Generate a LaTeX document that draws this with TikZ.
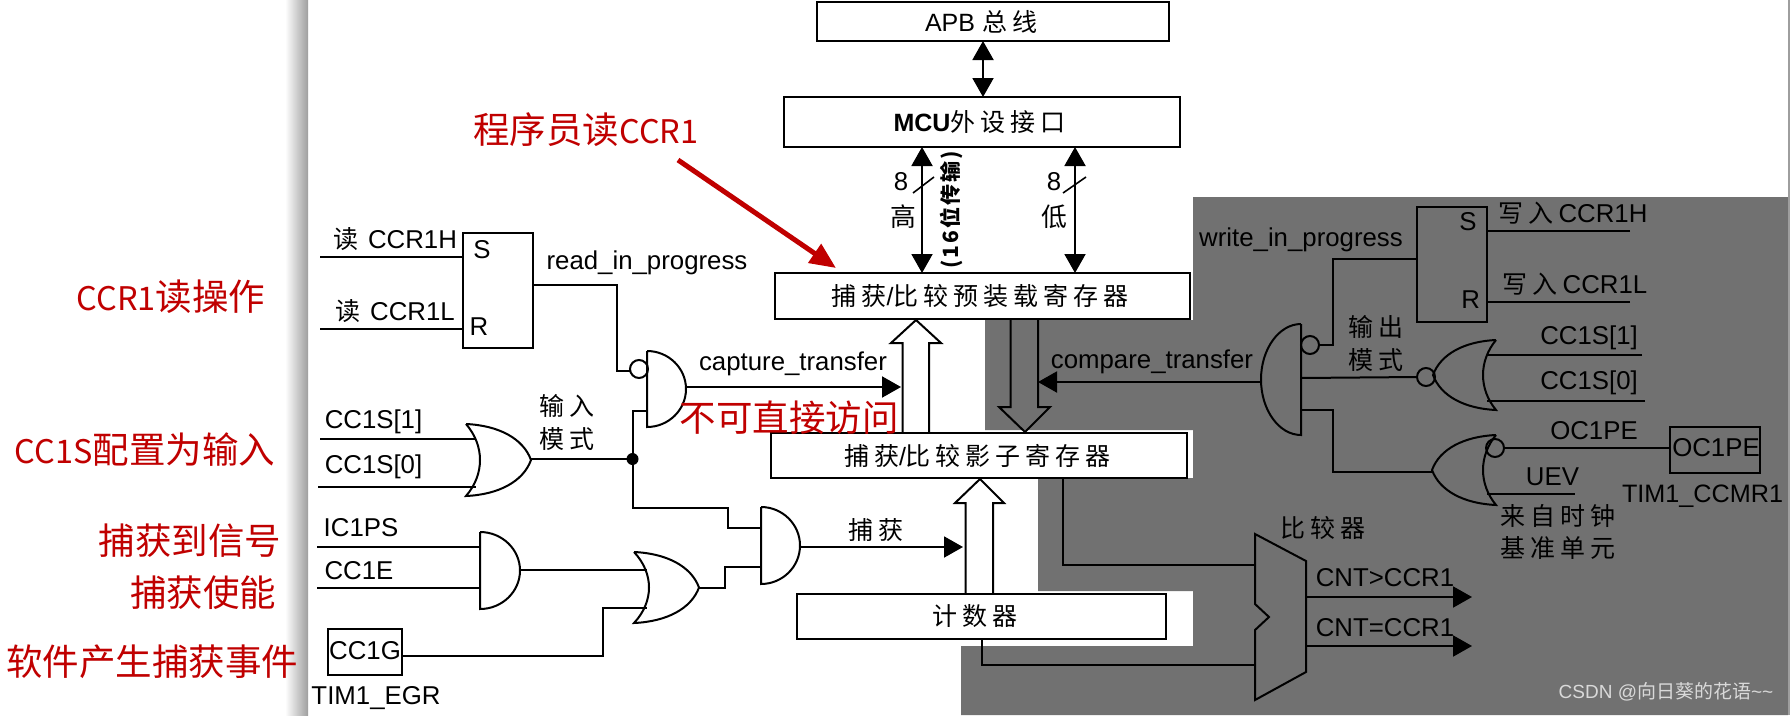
\documentclass[tikz,border=0pt]{standalone}
\usepackage{fontspec}
\usetikzlibrary{arrows.meta}
\setmainfont{Liberation Sans}
\newfontfamily\cjk{Noto Sans CJK SC}
\newfontfamily\cjksp{Noto Sans CJK SC}[LetterSpace=20]
\newfontfamily\cjkrot{Noto Sans CJK SC}[LetterSpace=10]
\definecolor{redtxt}{HTML}{C00000}
\definecolor{darkbg}{HTML}{717171}
\newcommand{\gateand}[4]{%
  \pgfmathsetmacro\gm{(#2+#3)/2}%
  \pgfmathsetmacro\gh{(#3-#2)/2*0.55}%
  \pgfmathsetmacro\gtx{#1+#4}%
  \pgfmathsetmacro\gcx{#1+0.55*#4}%
  \draw[wire] (#1,#2) -- (#1,#3) .. controls (\gcx,#3) and (\gtx,\gm+\gh) .. (\gtx,\gm)
     .. controls (\gtx,\gm-\gh) and (\gcx,#2) .. (#1,#2);}
\newcommand{\gateor}[5]{%
  \pgfmathsetmacro\gm{(#2+#3)/2}%
  \pgfmathsetmacro\gH{#3-#2}%
  \pgfmathsetmacro\gw{#5-#1}%
  \pgfmathsetmacro\gb{#1+(#4-#1)/0.75}%
  \draw[wire] (#1,#2) .. controls (\gb,#2+0.3*\gH) and (\gb,#3-0.3*\gH) .. (#1,#3)
     .. controls (#1+0.5*\gw,#3-0.02*\gH) and (#5-0.12*\gw,\gm+0.3*\gH) .. (#5,\gm)
     .. controls (#5-0.12*\gw,\gm-0.3*\gH) and (#1+0.5*\gw,#2+0.02*\gH) .. (#1,#2);}
\tikzset{
  wire/.style={line width=2pt,line join=miter},
  regbox/.style={draw,line width=2.2pt,fill=white,inner sep=0pt,outer sep=0pt,
     font=\fontsize{25}{28}\selectfont},
  srbox/.style={draw,line width=2pt,inner sep=0pt,outer sep=0pt},
  bub/.style={draw,line width=2pt,circle,minimum size=18pt,inner sep=0pt,outer sep=0pt},
  lab/.style={inner sep=0pt,outer sep=0pt,font=\fontsize{25.8}{28}\selectfont},
  redlab/.style={inner sep=0pt,outer sep=0pt,text=redtxt,font=\fontsize{36.5}{40}\selectfont\cjk},
  arr/.style={wire,-{Triangle[length=19pt,width=21pt]}},
  darr/.style={wire,{Triangle[length=19pt,width=21pt]}-{Triangle[length=19pt,width=21pt]}},
  hollow/.style={line width=2pt,line join=miter}
}
\newcommand{\lat}[1]{{\fontsize{32.5}{36}\selectfont #1}}
\newcommand{\cjktwo}[1]{{\fontsize{25}{28}\selectfont\cjksp #1}}
\begin{document}
\begin{tikzpicture}[x=1pt,y=-1pt]
\useasboundingbox (0,0) rectangle (1790,715);
% page
\fill[white] (0,0) rectangle (1790,715);
\shade[left color=white,right color=black!38,shading angle=90] (285,0) rectangle (308,715);
\fill[darkbg] (1193,197) -- (1788,197) -- (1788,715) -- (961,715) -- (961,646) -- (1193,646)
  -- (1193,591) -- (1038,591) -- (1038,478) -- (1193,478) -- (1193,430) -- (985,430)
  -- (985,320) -- (1193,320) -- cycle;
\fill[black!38] (1788,0) rectangle (1790,715);

% hollow arrows
\draw[hollow,fill=white] (902.5,433) -- (902.5,343) -- (891,343) -- (916,320) -- (941,343) -- (929,343) -- (929,433);
\draw[hollow,fill=white] (965.5,594) -- (965.5,503) -- (955,503) -- (980,479) -- (1004,503) -- (993,503) -- (993,594);
\draw[hollow] (1010.5,319) -- (1010.5,407) -- (999,407) -- (1025,432) -- (1050,407) -- (1038,407) -- (1038,319);

% registers
\node[regbox,minimum width=352pt,minimum height=39pt] (apb) at (993,21.5)
  {\kern-24pt APB\hspace{7pt}{\cjksp 总线}};
\node[regbox,minimum width=396pt,minimum height=50pt] (mcu) at (982,122)
  {\kern-5pt\textbf{MCU}{\cjksp 外设接口}};
\node[regbox,minimum width=415pt,minimum height=46pt] (pre) at (982.5,296)
  {\kern-5pt{\cjksp 捕获}/{\cjksp 比较预装载寄存器}};
\node[regbox,minimum width=416pt,minimum height=45pt] (sha) at (979,455.5)
  {\kern-3pt{\cjksp 捕获}/{\cjksp 比较影子寄存器}};
\node[regbox,minimum width=369pt,minimum height=45pt] (cnt) at (981.5,616.5)
  {\kern-14pt{\cjksp 计数器}};

% bus arrows
\coordinate (busx) at (983,0);
\coordinate (hix) at (922,0);
\coordinate (lox) at (1075,0);
\draw[darr] (apb.south -| busx) -- (mcu.north -| busx);
\draw[darr] (mcu.south -| hix) -- (pre.north -| hix);
\draw[darr] (mcu.south -| lox) -- (pre.north -| lox);
\coordinate (s1a) at (913,193); \coordinate (s1b) at (934,177);
\coordinate (s2a) at (1063,193); \coordinate (s2b) at (1086,177);
\draw[line width=1.6pt] (s1a) -- (s1b);
\draw[line width=1.6pt] (s2a) -- (s2b);
\node[lab] (n8h) at (901,182) {8};
\node[lab] (n8l) at (1054,182) {8};
\node[lab] (nhi) at (903,217) {\cjk 高};
\node[lab] (nlo) at (1054,217) {\cjk 低};
\node[inner sep=0pt,rotate=90] (n16) at (951,210) {\fontsize{21}{23}\selectfont\cjkrot\bfseries (16位传输)};

% ---------- left: read SR
\node[srbox,minimum width=70pt,minimum height=115pt] (srr) at (498,290.5) {};
\node[lab] (srrS) at (482,250) {S};
\node[lab] (srrR) at (479,327) {R};
\coordinate (rh) at (320,257); \coordinate (rl) at (320,329);
\draw[wire] (rh) -- (rh -| srr.west);
\draw[wire] (rl) -- (rl -| srr.west);
\node[lab] (trh) at (395,239) {{\cjk\fontsize{25}{28}\selectfont 读}\hspace{10pt}CCR1H};
\node[lab] (trl) at (395,311) {{\cjk\fontsize{25}{28}\selectfont 读}\hspace{10pt}CCR1L};
\node[lab] (trip) at (647,263) {read\_in\_progress};

% AND1
\gateand{647}{351}{427}{39}
\node[bub] (b1) at (639,369) {};
\coordinate (srro) at (533,285);
\draw[wire] (srro) -- (617,285) -- (617,371) -- (b1.west |- 617,371);
\coordinate (a1o) at (686,387); \coordinate (a1t) at (901,387);
\draw[arr] (a1o) -- (a1t);
\node[lab] (tct) at (793,364) {capture\_transfer};

% OR1
\gateor{466}{424}{496}{480}{531}
\coordinate (o1o) at (531,459);
\coordinate (j1) at (632.5,459);
\draw[wire] (320,439) coordinate (c1a) -- (476,439);
\draw[wire] (318,487) coordinate (c1b) -- (476,487);
\draw[wire] (o1o) -- (j1);
\fill (j1) circle (6pt);
\coordinate (a3i1) at (761,528);
\draw[wire] (647,411) coordinate (a1i2) -- (632.5,411) -- (632.5,508) -- (727.5,508) -- (727.5,528) -- (a3i1);
\node[lab] (tc1) at (373.5,422) {CC1S[1]};
\node[lab] (tc0) at (373.5,467) {CC1S[0]};
\node[lab] (tin1) at (567,406) {\cjktwo{输入}};
\node[lab] (tin2) at (567,439) {\cjktwo{模式}};

% AND2, OR2, AND3
\gateand{480}{532}{609}{40}
\gateor{634}{552}{623}{649}{699}
\gateand{761}{507}{584}{39}
\draw[wire] (317,547) coordinate (ic) -- (480,547);
\draw[wire] (317,588) coordinate (ce) -- (480,588);
\draw[wire] (520,570) coordinate (a2o) -- (647,570);
\node[lab] (tic) at (361,528) {IC1PS};
\node[lab] (tce) at (359,571) {CC1E};
\node[srbox,minimum width=74pt,minimum height=46pt] (ccg) at (364.5,652) {};
\node[lab] (tcg) at (365,651) {CC1G};
\node[lab] (teg) at (376,698) {TIM1\_EGR};
\draw[wire] (ccg.east |- 0,656) -- (602.5,656) -- (602.5,608) -- (647,608);
\draw[wire] (699,588) coordinate (o2o) -- (725,588) -- (725,567) -- (761,567);
\coordinate (a3o) at (800,547); \coordinate (a3t) at (963,547);
\draw[arr] (a3o) -- (a3t);
\node[lab] (tcap) at (876,530) {\cjktwo{捕获}};

% ---------- right: write SR
\node[srbox,minimum width=70pt,minimum height=115pt] (srw) at (1452,264.5) {};
\node[lab] (srwS) at (1468,222) {S};
\node[lab] (srwR) at (1470.6,300) {R};
\coordinate (wh) at (1630,231); \coordinate (wl) at (1630,302);
\draw[wire] (wh) -- (wh -| srw.east);
\draw[wire] (wl) -- (wl -| srw.east);
\node[lab] (twh) at (1573,213) {\cjktwo{写入}\hspace{5pt}CCR1H};
\node[lab] (twl) at (1575,284) {\cjktwo{写入}\hspace{5pt}CCR1L};
\node[lab] (twip) at (1301,240) {write\_in\_progress};

% AND right
\gateand{1301}{324}{435}{-40}
\node[bub] (b2) at (1310,345) {};
\draw[wire] (srw.west |- 0,259) -- (1333,259) -- (1333,345) -- (b2.east);
\coordinate (a4o) at (1261,382); \coordinate (a4t) at (1038,382);
\draw[arr] (a4o) -- (a4t);
\node[lab] (tcmp) at (1152,362) {compare\_transfer};

% NOR top
\gateor{1496}{340}{410}{1483}{1433}
\node[bub] (b3) at (1426,377) {};
\draw[wire] (1301,378) -- (b3.west);
\draw[wire] (1642,355) coordinate (w1) -- (1487,355);
\draw[wire] (1645,401) coordinate (w0) -- (1487,401);
\node[lab] (tw1) at (1589,338) {CC1S[1]};
\node[lab] (tw0) at (1589,383) {CC1S[0]};
\node[lab] (tou1) at (1376,327) {\cjktwo{输出}};
\node[lab] (tou2) at (1376,360) {\cjktwo{模式}};

% OR lower
\gateor{1496}{435}{505}{1483}{1432}
\node[bub] (b4) at (1495,448) {};
\draw[wire] (1301,410) -- (1333,410) -- (1333,472) -- (1432,472);
\node[srbox,minimum width=90pt,minimum height=46pt] (ocb) at (1715,450) {};
\node[lab] (tocb) at (1716,448) {OC1PE};
\draw[wire] (b4.east) -- (ocb.west |- b4.east);
\draw[wire] (1487,494) -- (1575,494) coordinate (uev);
\node[lab] (tuev) at (1552.5,477) {UEV};
\node[lab] (toc) at (1594,431) {OC1PE};
\node[lab,font=\fontsize{25.2}{28}\selectfont] (tccm) at (1702.5,496) {TIM1\_CCMR1};
\node[lab] (tclk1) at (1558,516) {\cjktwo{来自时钟}};
\node[lab] (tclk2) at (1558,548) {\cjktwo{基准单元}};

% comparator
\draw[wire] (1255,534) -- (1306,561) -- (1306,672) -- (1255,700) -- (1255,630) -- (1269,617) -- (1255,604) -- cycle;
\coordinate (ci1) at (1255,565); \coordinate (ci2) at (1255,665);
\coordinate (co1) at (1306,597); \coordinate (co2) at (1306,646);
\coordinate (co1t) at (1472,597); \coordinate (co2t) at (1472,646);
\draw[wire] (sha.south -| 1062.5,0) -- (1062.5,565) -- (ci1);
\draw[wire] (cnt.south -| 982,0) -- (982,665) -- (ci2);
\draw[arr] (co1) -- (co1t);
\draw[arr] (co2) -- (co2t);
\node[lab] (tcm) at (1323,528) {\cjktwo{比较器}};
\node[lab] (tgt) at (1385,578) {CNT>CCR1};
\node[lab] (teq) at (1385,628) {CNT=CCR1};

% watermark
\node[inner sep=0pt,text=black!15,font=\fontsize{19}{22}\selectfont] (wm) at (1666,692) {CSDN @{\cjk 向日葵的花语}\textasciitilde\textasciitilde};

% red annotations
\coordinate (rs) at (678,160); \coordinate (rt) at (836,268);
\draw[redtxt,line width=5pt,-{Triangle[length=26pt,width=22pt]}] (rs) -- (rt);
\node[redlab] (r0) at (586,130) {程序员读\lat{CCR1}};
\node[redlab] (r1) at (171,297) {\lat{CCR1}读操作};
\node[redlab] (r2) at (145,450) {\lat{CC1S}配置为输入};
\node[redlab] (r3) at (190,541) {捕获到信号};
\node[redlab] (r4) at (203,593) {捕获使能};
\node[redlab] (r5) at (152,662) {软件产生捕获事件};
\node[redlab] (r6) at (789,418) {不可直接访问};
\end{tikzpicture}
\end{document}
